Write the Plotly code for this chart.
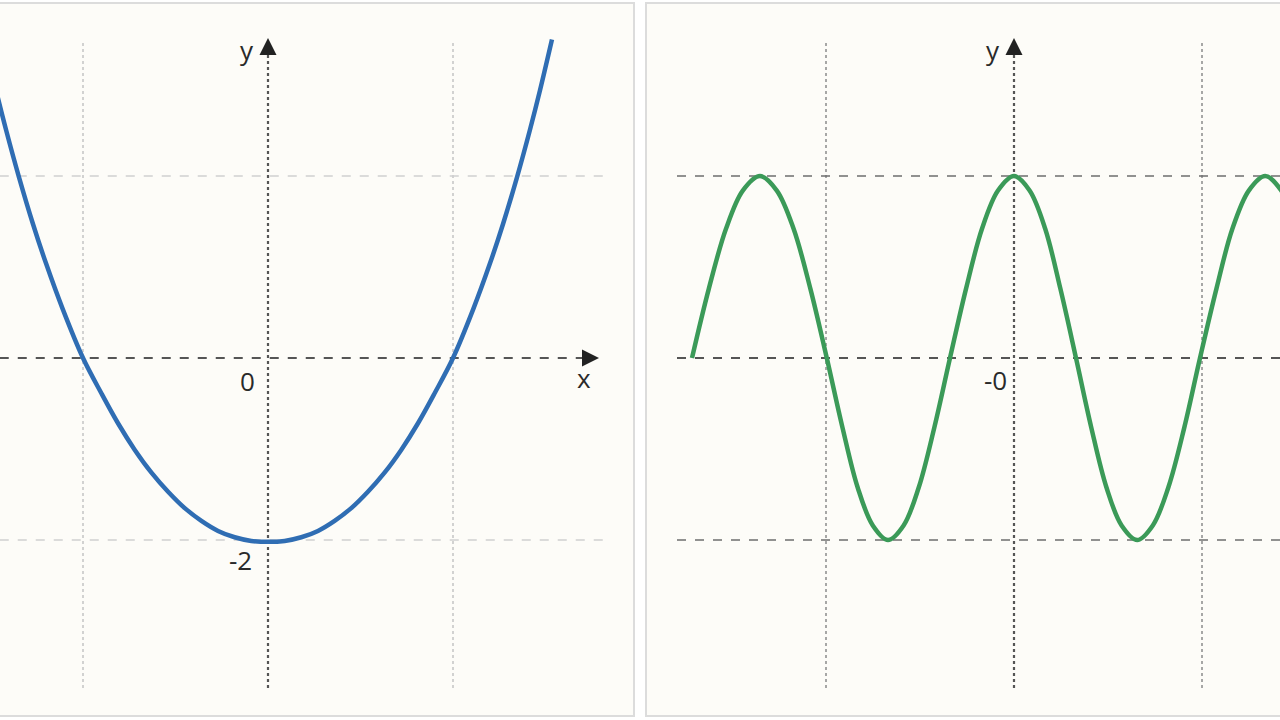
import plotly.graph_objects as go

# left panel: parabola
parab_x = [-3.07, -2.94, -2.83, -2.69, -2.54, -2.4, -2.22, -2.0, -1.8, -1.62, -1.44, -1.26, -1.08, -0.9, -0.72, -0.54, -0.36, -0.18,
           0.0, 0.18, 0.36, 0.54, 0.72, 0.9, 1.08, 1.26, 1.44, 1.62, 1.8, 2.0, 2.22, 2.4, 2.54, 2.69, 2.83, 2.94, 3.07]
parab_y = [3.5, 2.94, 2.5, 1.98, 1.47, 1.04, 0.54, 0.0, -0.39, -0.72, -1.01, -1.26, -1.47, -1.65, -1.79, -1.9, -1.97, -2.01,
           -2.02, -2.01, -1.97, -1.9, -1.79, -1.65, -1.47, -1.26, -1.01, -0.72, -0.39, 0.0, 0.54, 1.04, 1.47, 1.98, 2.5, 2.94, 3.5]

# right panel: wave
wave_x = [-8.05, -7.63, -7.2, -6.78, -6.35, -5.93, -5.51, -5.09, -4.68, -4.29, -3.91, -3.53, -3.15,
          -2.76, -2.38, -1.99, -1.6, -1.2, -0.8, -0.4, 0.0, 0.39, 0.78, 1.16, 1.55, 1.93, 2.31, 2.69,
          3.08, 3.47, 3.86, 4.26, 4.65, 5.06, 5.46, 5.87, 6.28, 6.68, 7.09]
wave_y = [0.0, 0.38, 0.71, 0.92, 1.0, 0.92, 0.71, 0.38, 0.0, -0.38, -0.71, -0.92, -1.0,
          -0.92, -0.71, -0.38, 0.0, 0.38, 0.71, 0.92, 1.0, 0.92, 0.71, 0.38, 0.0, -0.38, -0.71, -0.92,
          -1.0, -0.92, -0.71, -0.38, 0.0, 0.38, 0.71, 0.92, 1.0, 0.92, 0.71]

left_grid_x = [-2.0, 2.0]
left_grid_y = [-2.0, 2.0]
right_grid_x = [-4.7, 4.7]
right_grid_y = [-1.0, 1.0]

left_labels = ['0', '-2']
left_label_pos = [(-0.22, -0.25), (-0.3, -2.22)]
right_labels = ['-0']
right_label_pos = [(-0.47, -0.12)]

W, H = 1280, 720
KY2 = 182  # px per unit, right panel


def py(px):
    return 1 - px / H


fig = go.Figure()
fig.add_trace(go.Scatter(x=parab_x, y=parab_y, mode='lines', line=dict(color='#2f6db3', width=4.5, shape='spline'),
                         xaxis='x', yaxis='y', hoverinfo='skip'))
fig.add_trace(go.Scatter(x=wave_x, y=wave_y, mode='lines', line=dict(color='#3b9a58', width=4.5, shape='spline'),
                         xaxis='x2', yaxis='y2', hoverinfo='skip'))

shapes = []
# panel boxes
shapes.append(dict(type='rect', xref='paper', yref='paper', x0=-2 / W, x1=634 / W, y0=py(716), y1=py(3),
                   fillcolor='#fdfcf8', line=dict(color='#dcdcdc', width=2), layer='below'))
shapes.append(dict(type='rect', xref='paper', yref='paper', x0=646 / W, x1=1284 / W, y0=py(716), y1=py(3),
                   fillcolor='#fdfcf8', line=dict(color='#dcdcdc', width=2), layer='below'))

# left grid
for gx in left_grid_x:
    shapes.append(dict(type='line', xref='x', yref='y', x0=gx, x1=gx, y0=(358 - 688) / 91, y1=(358 - 40) / 91,
                       line=dict(color='#c4c4c4', width=1.5, dash='dot'), layer='below'))
for gy in left_grid_y:
    shapes.append(dict(type='line', xref='x', yref='y', x0=-2.9, x1=(605 - 268) / 92.5, y0=gy, y1=gy,
                       line=dict(color='#cfcfcf', width=1.5, dash='dash'), layer='below'))
# left axes
shapes.append(dict(type='line', xref='x', yref='y', x0=0, x1=0, y0=(358 - 688) / 91, y1=(358 - 50) / 91,
                   line=dict(color='#555', width=2.2, dash='dot'), layer='below'))
shapes.append(dict(type='line', xref='x', yref='y', x0=-2.9, x1=(588 - 268) / 92.5, y0=0, y1=0,
                   line=dict(color='#555', width=2.2, dash='dash'), layer='below'))

# right grid
for gx in right_grid_x:
    shapes.append(dict(type='line', xref='x2', yref='y2', x0=gx, x1=gx, y0=(358 - 688) / KY2, y1=(358 - 40) / KY2,
                       line=dict(color='#8a8a8a', width=1.5, dash='dot'), layer='below'))
for gy in right_grid_y:
    shapes.append(dict(type='line', xref='x2', yref='y2', x0=(677 - 1014) / 40, x1=7, y0=gy, y1=gy,
                       line=dict(color='#6e6e6e', width=1.5, dash='dash'), layer='below'))
shapes.append(dict(type='line', xref='x2', yref='y2', x0=0, x1=0, y0=(358 - 688) / KY2, y1=(358 - 50) / KY2,
                   line=dict(color='#555', width=2.2, dash='dot'), layer='below'))
shapes.append(dict(type='line', xref='x2', yref='y2', x0=(677 - 1014) / 40, x1=7, y0=0, y1=0,
                   line=dict(color='#555', width=2.2, dash='dash'), layer='below'))

annotations = []
txt_font = dict(family='Open Sans, DejaVu Sans', size=26, color='#2a2a2a')
# arrow heads
annotations.append(dict(xref='x', yref='y', axref='x', ayref='y', x=0, y=(358 - 38) / 91, ax=0, ay=(358 - 52) / 91,
                        text='', showarrow=True, arrowhead=2, arrowsize=1.7, arrowwidth=2, arrowcolor='#222'))
annotations.append(dict(xref='x', yref='y', axref='x', ayref='y', x=(599 - 268) / 92.5, y=0, ax=(585 - 268) / 92.5, ay=0,
                        text='', showarrow=True, arrowhead=2, arrowsize=1.7, arrowwidth=2, arrowcolor='#222'))
annotations.append(dict(xref='x2', yref='y2', axref='x2', ayref='y2', x=0, y=(358 - 38) / KY2, ax=0, ay=(358 - 52) / KY2,
                        text='', showarrow=True, arrowhead=2, arrowsize=1.7, arrowwidth=2, arrowcolor='#222'))
# axis names
annotations.append(dict(xref='x', yref='y', x=(247 - 268) / 92.5, y=(358 - 50) / 91, text='y', showarrow=False, font=txt_font))
annotations.append(dict(xref='x', yref='y', x=(584 - 268) / 92.5, y=(358 - 378) / 91, text='x', showarrow=False, font=txt_font))
annotations.append(dict(xref='x2', yref='y2', x=(993 - 1014) / 40, y=(358 - 50) / KY2, text='y', showarrow=False, font=txt_font))
for t, (lx, ly) in zip(left_labels, left_label_pos):
    annotations.append(dict(xref='x', yref='y', x=lx, y=ly, text=t, showarrow=False, font=txt_font))
for t, (lx, ly) in zip(right_labels, right_label_pos):
    annotations.append(dict(xref='x2', yref='y2', x=lx, y=ly, text=t, showarrow=False, font=txt_font))

ax_common = dict(visible=False, showgrid=False, zeroline=False, fixedrange=True)
fig.update_layout(
    width=W, height=H,
    margin=dict(l=0, r=0, t=0, b=0),
    paper_bgcolor='white',
    plot_bgcolor='rgba(0,0,0,0)',
    showlegend=False,
    shapes=shapes,
    annotations=annotations,
    xaxis=dict(domain=[0, 634 / W], range=[(0 - 268) / 92.5, (634 - 268) / 92.5], **ax_common),
    yaxis=dict(domain=[0, 1], range=[(358 - 720) / 91, 358 / 91], **ax_common),
    xaxis2=dict(domain=[646 / W, 1], range=[(646 - 1014) / 40, (1280 - 1014) / 40], **ax_common),
    yaxis2=dict(domain=[0, 1], range=[(358 - 720) / KY2, 358 / KY2], anchor='x2', **ax_common),
)

# page has a default body margin, drop it so the figure sits at the window corner
fig.write_html("out.html", config={'displayModeBar': False},
               post_script="document.body.style.margin='0px';document.body.style.overflow='hidden';")
